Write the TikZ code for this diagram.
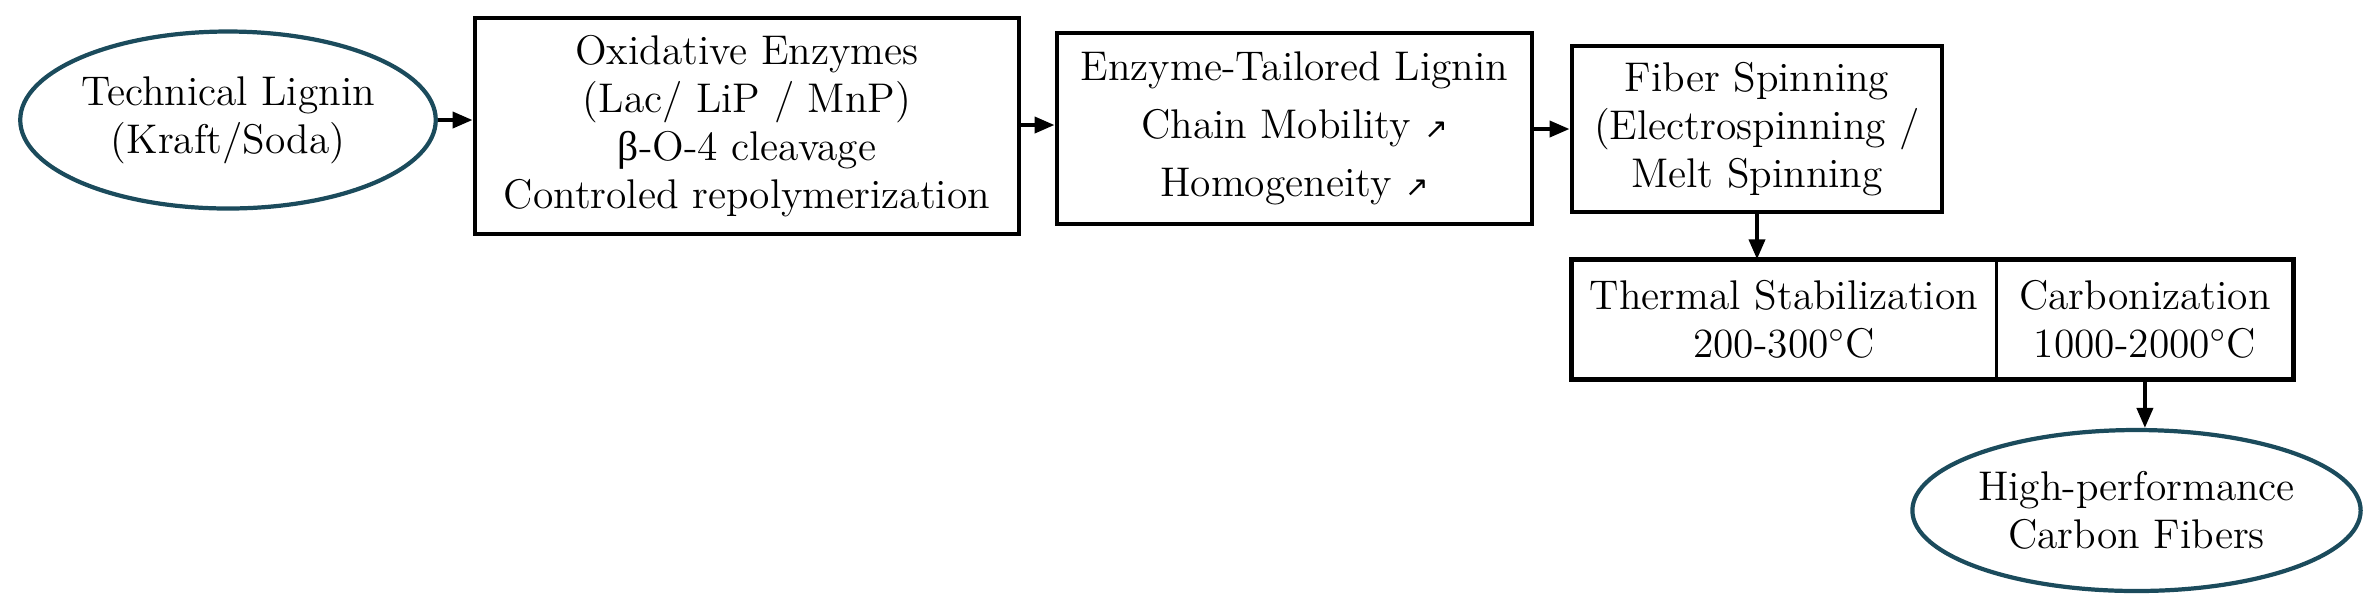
\documentclass[tikz,border=0pt]{standalone}
\usepackage{fontspec}
\newfontfamily\greekfont{Liberation Serif}
\newfontfamily\arrowfont{DejaVu Sans}
\usetikzlibrary{arrows.meta,shapes.geometric}
\definecolor{ovalteal}{HTML}{1B4B5C}
\tikzset{
  stepbox/.style={draw,line width=1.4pt,rectangle,align=center,inner sep=0pt},
  cellbox/.style={rectangle,align=center,inner sep=0pt,minimum height=1.19cm},
  endoval/.style={draw=ovalteal,line width=1.2pt,ellipse,align=center,inner sep=0pt},
  flow/.style={line width=1.1pt,-{Triangle[length=2mm,width=1.6mm]}}
}
\newcommand{\upar}{\ {\arrowfont\fontsize{8}{8}\selectfont ↗}}

\begin{document}
\begin{tikzpicture}[y=-1cm,font=\fontsize{11.8}{13.6}\selectfont]
  \useasboundingbox (0,0) rectangle (23.64,6.05);
  % Ausgangsstoff
  \node[endoval,minimum width=4.15cm,minimum height=1.77cm] (lignin) at (2.28,1.20)
    {Technical Lignin\\(Kraft/Soda)};
  % Prozesskette oben
  \node[stepbox,minimum width=5.44cm,minimum height=2.16cm] (enzymes) at (7.47,1.26)
    {Oxidative Enzymes\\(Lac/ LiP / MnP)\\{\greekfont β}-O-4 cleavage\\Controled repolymerization};
  \node[stepbox,minimum width=4.75cm,minimum height=1.91cm] (tailored) at (12.945,1.285)
    {Enzyme-Tailored Lignin\\[3pt]Chain Mobility\upar\\[3pt]Homogeneity\upar};
  \node[stepbox,minimum width=3.70cm,minimum height=1.66cm] (spinning) at (17.57,1.29)
    {Fiber Spinning\\(Electrospinning /\\Melt Spinning};
  % Wärmebehandlung (zweigeteilt)
  \node[cellbox,minimum width=4.24cm] (thermal) at (17.84,3.195)
    {Thermal Stabilization\\200-300$^{\circ}$C};
  \node[cellbox,minimum width=2.95cm,anchor=west] (carbon) at (thermal.east)
    {Carbonization\\1000-2000$^{\circ}$C};
  \draw[line width=1.4pt] (thermal.north west) rectangle (carbon.south east);
  \draw[line width=1pt] (thermal.north east) -- (thermal.south east);
  % Produkt
  \node[endoval,minimum width=4.13cm,minimum height=1.61cm] (fibers) at (21.365,5.105)
    {High-performance\\Carbon Fibers};
  % Pfeile
  \draw[flow] (lignin.east) -- (lignin.east -| enzymes.west);
  \draw[flow] (enzymes.east |- 0,1.25) -- (tailored.west |- 0,1.25);
  \draw[flow] (tailored.east |- 0,1.29) -- (spinning.west |- 0,1.29);
  \draw[flow] (spinning.south) -- (spinning.south |- thermal.north);
  \draw[flow] (carbon.south) -- (carbon.south |- fibers.north);
\end{tikzpicture}
\end{document}
